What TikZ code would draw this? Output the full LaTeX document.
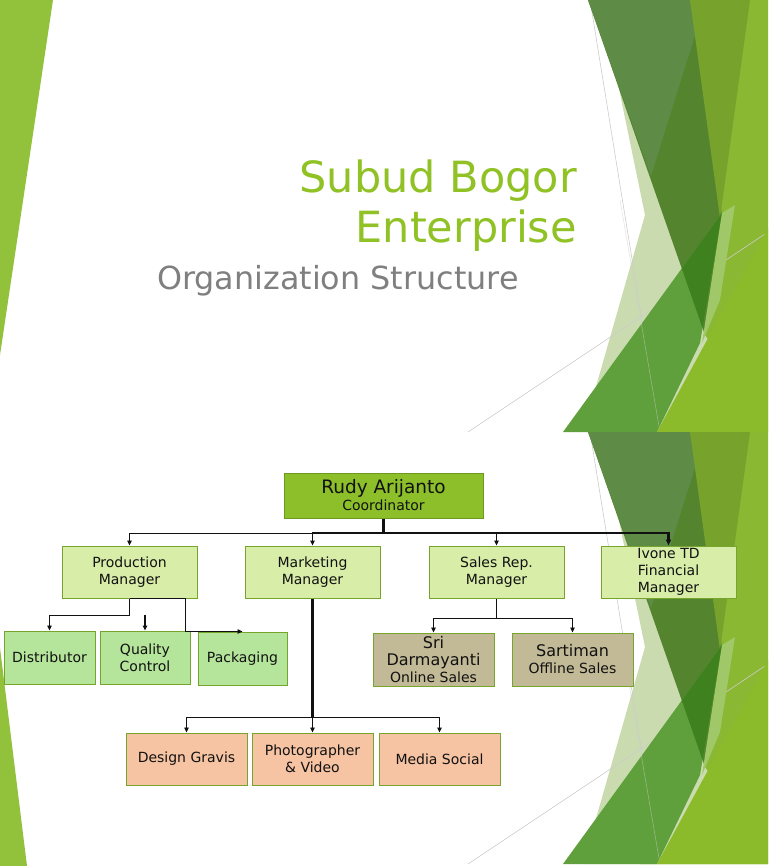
\documentclass[tikz,border=0pt]{standalone}
\usepackage{fontspec}
\setmainfont{DejaVu Sans}
\usepackage{xcolor}
\usetikzlibrary{arrows.meta}

\definecolor{ink}{HTML}{111111}
\definecolor{titlegreen}{HTML}{90C226}
\definecolor{subgray}{HTML}{7F7F7F}
\definecolor{rudyfill}{HTML}{8CBF2A}
\definecolor{rudyline}{HTML}{6B9A1E}
\definecolor{boxline}{HTML}{76A52E}
\definecolor{mgrfill}{HTML}{D8EDA8}
\definecolor{prodfill}{HTML}{B5E59B}
\definecolor{salesfill}{HTML}{C2B996}
\definecolor{mktfill}{HTML}{F6C3A3}
\definecolor{leftgreen}{HTML}{92C13B}
\definecolor{facetpale}{HTML}{CADCAF}
\definecolor{facetdark}{HTML}{55842F}
\definecolor{facetmoss}{HTML}{5E8C47}
\definecolor{facetolive}{HTML}{77A22B}
\definecolor{facetlime}{HTML}{8AB833}
\definecolor{facetmid}{HTML}{5FA03C}
\definecolor{facetdeep}{HTML}{3F801F}
\definecolor{facetsoft}{HTML}{A0C768}
\definecolor{facetbright}{HTML}{8BBA2A}

\begin{document}
\begin{tikzpicture}[
        x=1pt, y=-1pt,
        orgbox/.style={draw=#1, line width=1pt, align=center, text=ink, inner sep=0pt, minimum height=52pt, font=\fontsize{14}{17}\selectfont},
        orgbox/.default=boxline,
        mgr/.style={orgbox, fill=mgrfill, minimum width=135pt},
        produnit/.style={orgbox, fill=prodfill, minimum width=90pt, minimum height=53pt},
        salesunit/.style={orgbox, fill=salesfill, minimum width=121pt, minimum height=53pt},
        mktunit/.style={orgbox, fill=mktfill, minimum width=121pt},
        link/.style={draw=ink, line width=0.8pt, -{Triangle[length=5pt, width=4.5pt]}},
        trunk/.style={draw=ink, line width=2.2pt},
        hairline/.style={draw=gray!40, line width=0.6pt},
    ]
    \useasboundingbox (0,0) rectangle (768,866);

    % Facets on the right, one set per slide
    \foreach \oy/\h in {0/432, 432/434} {
        \begin{scope}[shift={(0,\oy)}]
            \clip (0,0) rectangle (768,\h);
            \fill[facetlime] (690,0) -- (768,0) -- (768,432) -- (640,432) -- cycle;
            \fill[facetpale] (612,55) -- (705,335) -- (768,432) -- (583,432) -- (645,215) -- cycle;
            \draw[hairline] (590,0) -- (660,432);
            \draw[hairline] (468,432) -- (768,232);
            \fill[facetdark] (588,0) -- (690,0) -- (722,215) -- (705,335) -- cycle;
            \begin{scope}
                \clip (588,0) -- (690,0) -- (722,215) -- (705,335) -- cycle;
                \fill[facetmoss] (588,0) -- (706,0) -- (651,176) -- cycle;
            \end{scope}
            \fill[facetolive] (690,0) -- (750,0) -- (720,218) -- cycle;
            \fill[facetmid] (563,432) -- (722,213) -- (700,343) -- (657,432) -- cycle;
            \begin{scope}
                \clip (588,0) -- (690,0) -- (722,215) -- (705,335) -- cycle;
                \fill[facetdeep] (563,432) -- (722,213) -- (700,343) -- (657,432) -- cycle;
            \end{scope}
            \draw[hairline, draw opacity=0.5] (620,200) -- (660,432);
            \fill[facetsoft] (722,213) -- (735,205) -- (720,300) -- (702,343) -- cycle;
            \fill[facetbright] (657,432) -- (768,228) -- (768,432) -- cycle;
        \end{scope}
    }

    % Facets on the left
    \fill[leftgreen] (0,0) -- (53,0) -- (0,355) -- cycle;
    \fill[leftgreen] (0,648) -- (27,866) -- (0,866) -- cycle;

    % Title slide
    \node[anchor=base east, text=titlegreen, font=\fontsize{43}{52}\selectfont, inner sep=0pt] (title) at (577,193) {Subud Bogor};
    \node[anchor=base east, text=titlegreen, font=\fontsize{43}{52}\selectfont, inner sep=0pt] (titleb) at (577,243) {Enterprise};
    \node[anchor=base west, text=subgray, font=\fontsize{31.8}{36}\selectfont, inner sep=0pt] (subtitle) at (157,289) {Organization Structure};

    % Coordinator
    \node[orgbox=rudyline, fill=rudyfill, minimum width=199pt, minimum height=45pt] (rudy) at (383.5,495.5)
        {\fontsize{18.5}{18}\selectfont Rudy Arijanto\\\fontsize{14}{18}\selectfont Coordinator};

    % Managers
    \node[mgr] (prod) at (129.5,572) {Production\\Manager};
    \node[mgr] (mkt) at (312.5,572) {Marketing\\Manager};
    \node[mgr] (sales) at (496.5,572) {Sales Rep.\\Manager};
    \node[mgr] (fin) at (668.5,572) {Ivone TD\\Financial\\Manager};

    % Production units
    \node[produnit, minimum width=91pt] (dist) at (49.5,657.5) {Distributor};
    \node[produnit] (qc) at (145,657.5) {Quality\\Control};
    \node[produnit, minimum width=89pt] (pack) at (242.5,658.5) {Packaging};

    % Sales units
    \node[salesunit] (sri) at (433.5,659.5)
        {\fontsize{16}{19}\selectfont Sri\\\fontsize{16}{19}\selectfont Darmayanti\\\fontsize{14}{17}\selectfont Online Sales};
    \node[salesunit] (sart) at (572.5,659.5)
        {\fontsize{16}{17}\selectfont Sartiman\\\fontsize{14}{17}\selectfont Offline Sales};

    % Marketing units
    \node[mktunit] (design) at (186.5,759) {Design Gravis};
    \node[mktunit] (photo) at (312.5,759) {Photographer\\\& Video};
    \node[mktunit] (media) at (439.5,759) {Media Social};

    % Coordinator to managers
    \coordinate (bus) at (383.5,533);
    \draw[trunk, -{Triangle[length=6pt, width=5pt]}] (rudy.south) -- (bus) -| (fin.north);
    \draw[link] (bus) -| (prod.north);
    \draw[link, line width=1.4pt] (bus) -| (mkt.north);
    \draw[link] (bus) -| (sales.north);

    % Production manager to units
    \draw[link] (prod.south) -- ++(0,17) -| (dist.north);
    \draw[link, line width=1.6pt] ([yshift=16pt]qc.north) -- (qc.north);
    \draw[link] (prod.south) -- ++(55.5,0) |- (pack.north);

    % Sales manager to units
    \draw[ink, line width=0.8pt] (sales.south) -- ++(0,20) coordinate (sbus);
    \draw[link] (sbus) -| (sri.north);
    \draw[link] (sbus) -| (sart.north);

    % Marketing manager to units
    \draw[trunk] (mkt.south) -- ++(0,119) coordinate (mbus);
    \draw[link] (mbus) -| (design.north);
    \draw[link] (mbus) -- (photo.north);
    \draw[link, line width=1.4pt] (mbus) -| (media.north);

\end{tikzpicture}
\end{document}
